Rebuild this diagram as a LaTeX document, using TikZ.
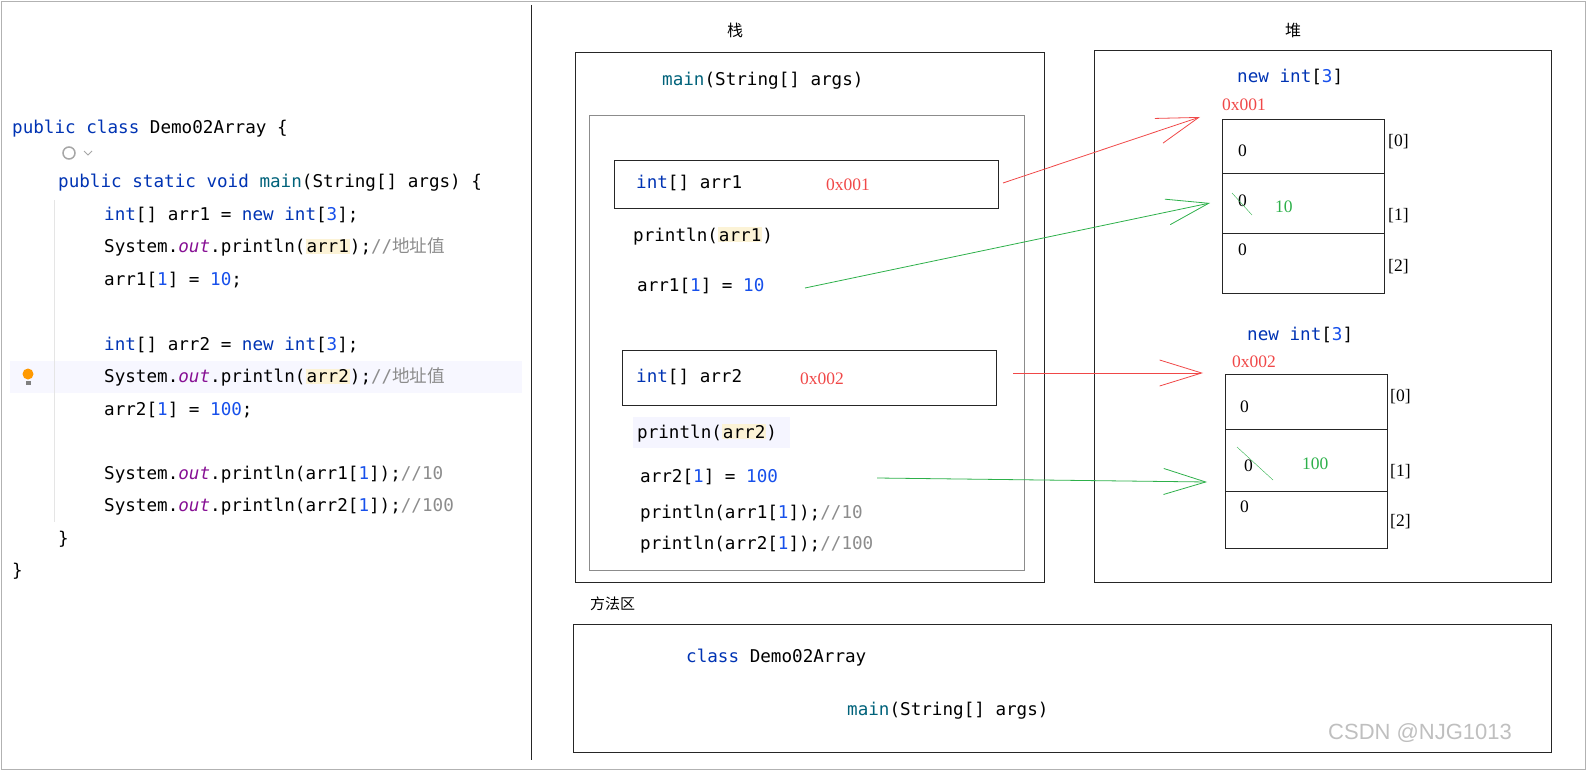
\documentclass[tikz,border=0pt]{standalone}
\usepackage{fontspec}
\setmainfont{Liberation Serif}
\setmonofont{DejaVu Sans Mono}
\newfontfamily\cjk{Noto Sans CJK SC}
\usetikzlibrary{arrows.meta}
\definecolor{kw}{HTML}{0033B3}
\definecolor{num}{HTML}{1750EB}
\definecolor{fn}{HTML}{00627A}
\definecolor{pu}{HTML}{871094}
\definecolor{cm}{HTML}{8C8C8C}
\definecolor{rd}{HTML}{F04848}
\definecolor{gn}{HTML}{2DB04A}
\definecolor{hl}{HTML}{FCF3D6}
\newcommand\kw[1]{\textcolor{kw}{#1}}
\newcommand\nm[1]{\textcolor{num}{#1}}
\newcommand\fnc[1]{\textcolor{fn}{#1}}
\newcommand\outw{\textcolor{pu}{\itshape out}}
\newcommand\hlt[1]{\setlength{\fboxsep}{1pt}\colorbox{hl}{#1}}
\newcommand\cmt[1]{\textcolor{cm}{#1}}
\begin{document}
\begin{tikzpicture}[x=1pt,y=-1pt,
  code/.style={anchor=west,inner sep=0,font=\ttfamily\fontsize{17.6}{20}\selectfont},
  ser/.style={anchor=west,inner sep=0,font=\fontsize{17.5}{20}\selectfont},
  red/.style={ser,text=rd},
  box/.style={draw=black!85,line width=0.9pt},
  ra/.style={draw=rd,line width=0.8pt,-{Straight Barb[length=42pt,width=26pt,line width=0.8pt]}},
  ga/.style={draw=gn,line width=0.8pt,-{Straight Barb[length=42pt,width=26pt,line width=0.8pt]}}]
\useasboundingbox (0,0) rectangle (1586,770);
\draw[black!30] (1,1) rectangle (1585,769);
\draw[black!85,line width=0.9pt] (531,5) -- (531,760);
% left code
\fill[blue!3] (10,361) rectangle (522,393);
\draw[black!10] (54,200) -- (54,522);
\node[code] (l1) at (12,129) {\kw{public} \kw{class} Demo02Array \{};
\draw[black!35,line width=1.5pt] (69,153) circle (6);
\draw[black!35,line width=0.8pt] (84,151) -- (88,155) -- (92,151);
\node[code] (l2) at (58,183) {\kw{public} \kw{static} \kw{void} \fnc{main}(String[] args) \{};
\node[code] (l3) at (104,215) {\kw{int}[] arr1 = \kw{new} \kw{int}[\nm{3}];};
\node[code] (l4) at (104,247) {System.\outw.println(\hlt{arr1});\cmt{//{\cjk 地址值}}};
\node[code] (l5) at (104,280) {arr1[\nm{1}] = \nm{10};};
\node[code] (l6) at (104,345) {\kw{int}[] arr2 = \kw{new} \kw{int}[\nm{3}];};
\fill[orange!80!yellow] (28,374) circle (5.5);
\fill[black!50] (25.5,381) rectangle (30.5,385);
\node[code] (l7) at (104,377) {System.\outw.println(\hlt{arr2});\cmt{//{\cjk 地址值}}};
\node[code] (l8) at (104,410) {arr2[\nm{1}] = \nm{100};};
\node[code] (l9) at (104,475) {System.\outw.println(arr1[\nm{1}]);\cmt{//10}};
\node[code] (l10) at (104,507) {System.\outw.println(arr2[\nm{1}]);\cmt{//100}};
\node[code] (l11) at (58,539) {\}};
\node[code] (l12) at (12,571) {\}};
% stack
\node[ser,anchor=center,font=\cjk\fontsize{16}{18}\selectfont] (zh) at (735,30) {栈};
\draw[box] (575,52) rectangle (1044,582);
\node[code] (sm) at (662,81) {\fnc{main}(String[] args)};
\draw[black!45,line width=0.9pt] (589,115) rectangle (1024,570);
\draw[box] (614,160) rectangle (998,208);
\node[code] (a1) at (636,183) {\kw{int}[] arr1};
\node[red] (p1) at (826,185) {0x001};
\coordinate (s1) at (1003,183);
\node[code] (pr1) at (633,236) {println(\hlt{arr1})};
\node[code] (as1) at (637,286) {arr1[\nm{1}] = \nm{10}};
\coordinate (s2) at (805,288);
\draw[box] (622,350) rectangle (996,405);
\node[code] (a2) at (636,377) {\kw{int}[] arr2};
\node[red] (p2) at (800,379) {0x002};
\coordinate (s3) at (1013,373);
\fill[blue!4] (633,417) rectangle (790,448);
\node[code] (pr2) at (637,433) {println(\hlt{arr2})};
\node[code] (as2) at (640,477) {arr2[\nm{1}] = \nm{100}};
\coordinate (s4) at (877,478);
\node[code] (pa) at (640,514) {println(arr1[\nm{1}]);\cmt{//10}};
\node[code] (pb) at (640,545) {println(arr2[\nm{1}]);\cmt{//100}};
% heap
\node[ser,anchor=center,font=\cjk\fontsize{16}{18}\selectfont] (du) at (1293,30) {堆};
\draw[box] (1094,50) rectangle (1551,582);
\node[code] (n1) at (1237,77) {\kw{new} \kw{int}[\nm{3}]};
\node[red] (h1) at (1222,105) {0x001};
\draw[box] (1222,119) rectangle (1384,293);
\draw[box] (1222,173) -- (1384,173);
\draw[box] (1222,233) -- (1384,233);
\node[ser] (v10) at (1238,151) {0};
\node[ser] (v11) at (1238,201) {0};
\node[ser] (v12) at (1238,250) {0};
\node[ser,text=gn] (t10) at (1275,207) {10};
\draw[gn] (1232,193) -- (1252,215);
\node[ser] (i10) at (1388,142) {[0]};
\node[ser] (i11) at (1388,216) {[1]};
\node[ser] (i12) at (1388,267) {[2]};
\coordinate (e1) at (1200,117);
\coordinate (e2) at (1210,203);
\node[code] (n2) at (1247,335) {\kw{new} \kw{int}[\nm{3}]};
\node[red] (h2) at (1232,362) {0x002};
\draw[box] (1225,374) rectangle (1387,548);
\draw[box] (1225,429) -- (1387,429);
\draw[box] (1225,491) -- (1387,491);
\node[ser] (v20) at (1240,407) {0};
\node[ser] (v21) at (1244,466) {0};
\node[ser] (v22) at (1240,507) {0};
\node[ser,text=gn] (t20) at (1302,464) {100};
\draw[gn] (1237,447) -- (1273,480);
\node[ser] (i20) at (1390,397) {[0]};
\node[ser] (i21) at (1390,472) {[1]};
\node[ser] (i22) at (1390,522) {[2]};
\coordinate (e3) at (1203,373);
\coordinate (e4) at (1207,482);
\draw[ra] (s1) -- (e1);
\draw[ga] (s2) -- (e2);
\draw[ra] (s3) -- (e3);
\draw[ga] (s4) -- (e4);
% method area
\node[ser,font=\cjk\fontsize{15}{18}\selectfont] (ff) at (590,604) {方法区};
\draw[box] (573,624) rectangle (1551,752);
\node[code] (c1) at (686,658) {\kw{class} Demo02Array};
\node[code] (c2) at (847,711) {\fnc{main}(String[] args)};
\node[anchor=west,inner sep=0,text=black!25,font=\fontspec{Liberation Sans}\fontsize{22}{24}\selectfont] (wm) at (1328,733) {CSDN @NJG1013};
\end{tikzpicture}
\end{document}
